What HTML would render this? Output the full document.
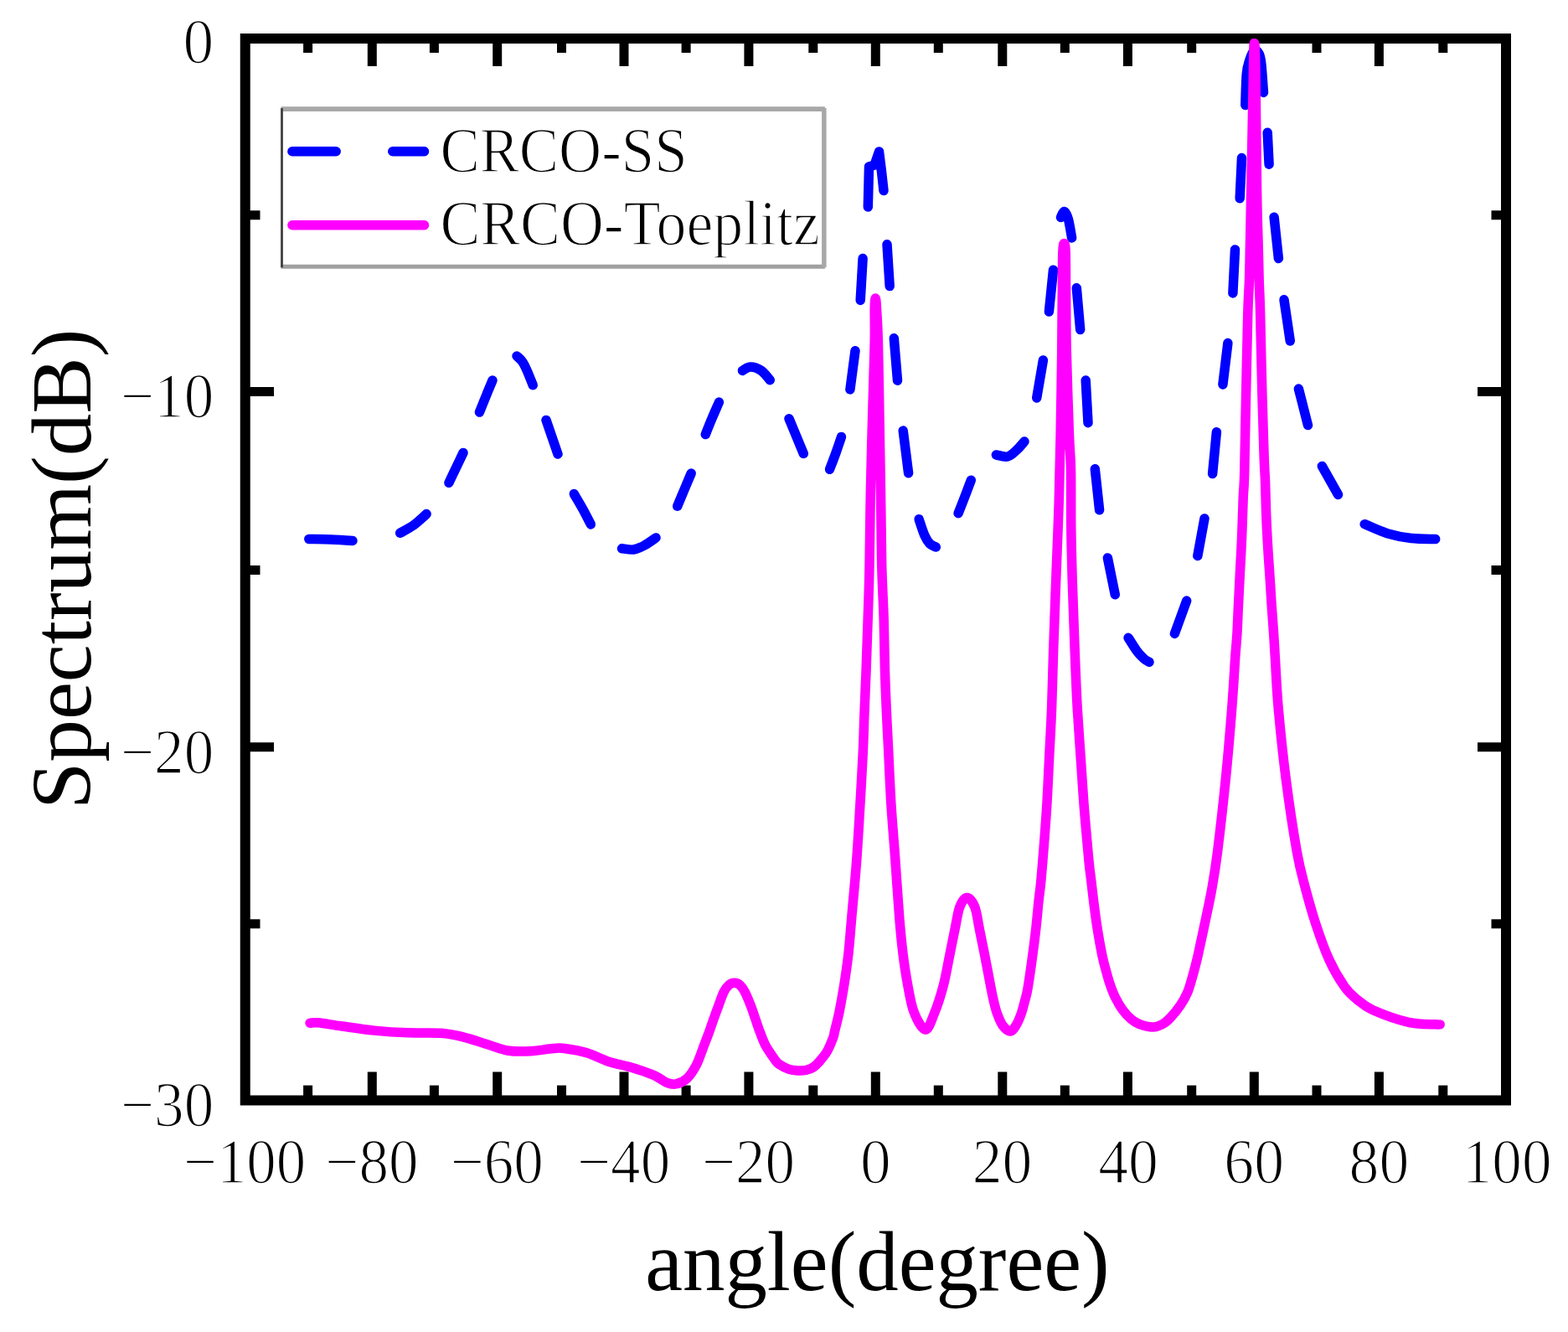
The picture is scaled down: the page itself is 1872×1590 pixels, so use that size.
<!DOCTYPE html><html><head><meta charset="utf-8"><title>Spectrum</title><style>html,body{margin:0;padding:0;background:#fff;}svg{display:block;}text{font-family:"Liberation Serif","Times New Roman",serif;fill:#000;}.t{stroke:#fff;stroke-width:1.6px;stroke-linejoin:round;}</style></head><body>
<svg width="1872" height="1590" viewBox="0 0 1872 1590">
<rect width="1872" height="1590" fill="#fff"/>
<rect x="292.75" y="46" width="1505.25" height="1267.5" fill="none" stroke="#000" stroke-width="12"/>
<g stroke="#000" stroke-width="11" fill="none">
<line x1="367.6" y1="46" x2="367.6" y2="63"/>
<line x1="367.6" y1="1313.5" x2="367.6" y2="1295.6"/>
<line x1="444.3" y1="46" x2="444.3" y2="79"/>
<line x1="444.3" y1="1313.5" x2="444.3" y2="1279.5"/>
<line x1="518.4" y1="46" x2="518.4" y2="63"/>
<line x1="518.4" y1="1313.5" x2="518.4" y2="1295.6"/>
<line x1="593.7" y1="46" x2="593.7" y2="79"/>
<line x1="593.7" y1="1313.5" x2="593.7" y2="1279.5"/>
<line x1="670.5" y1="46" x2="670.5" y2="63"/>
<line x1="670.5" y1="1313.5" x2="670.5" y2="1295.6"/>
<line x1="745" y1="46" x2="745" y2="79"/>
<line x1="745" y1="1313.5" x2="745" y2="1279.5"/>
<line x1="819.1" y1="46" x2="819.1" y2="63"/>
<line x1="819.1" y1="1313.5" x2="819.1" y2="1295.6"/>
<line x1="893.9" y1="46" x2="893.9" y2="79"/>
<line x1="893.9" y1="1313.5" x2="893.9" y2="1279.5"/>
<line x1="970.8" y1="46" x2="970.8" y2="63"/>
<line x1="970.8" y1="1313.5" x2="970.8" y2="1295.6"/>
<line x1="1045.3" y1="46" x2="1045.3" y2="79"/>
<line x1="1045.3" y1="1313.5" x2="1045.3" y2="1279.5"/>
<line x1="1120.3" y1="46" x2="1120.3" y2="63"/>
<line x1="1120.3" y1="1313.5" x2="1120.3" y2="1295.6"/>
<line x1="1196.8" y1="46" x2="1196.8" y2="79"/>
<line x1="1196.8" y1="1313.5" x2="1196.8" y2="1279.5"/>
<line x1="1271.3" y1="46" x2="1271.3" y2="63"/>
<line x1="1271.3" y1="1313.5" x2="1271.3" y2="1295.6"/>
<line x1="1346.4" y1="46" x2="1346.4" y2="79"/>
<line x1="1346.4" y1="1313.5" x2="1346.4" y2="1279.5"/>
<line x1="1422.7" y1="46" x2="1422.7" y2="63"/>
<line x1="1422.7" y1="1313.5" x2="1422.7" y2="1295.6"/>
<line x1="1497.3" y1="46" x2="1497.3" y2="79"/>
<line x1="1497.3" y1="1313.5" x2="1497.3" y2="1279.5"/>
<line x1="1572" y1="46" x2="1572" y2="63"/>
<line x1="1572" y1="1313.5" x2="1572" y2="1295.6"/>
<line x1="1646.4" y1="46" x2="1646.4" y2="79"/>
<line x1="1646.4" y1="1313.5" x2="1646.4" y2="1279.5"/>
<line x1="1722.8" y1="46" x2="1722.8" y2="63"/>
<line x1="1722.8" y1="1313.5" x2="1722.8" y2="1295.6"/>
<line x1="292.75" y1="256.8" x2="310.5" y2="256.8"/>
<line x1="1798" y1="256.8" x2="1780.5" y2="256.8"/>
<line x1="292.75" y1="467.5" x2="327" y2="467.5"/>
<line x1="1798" y1="467.5" x2="1764" y2="467.5"/>
<line x1="292.75" y1="680.5" x2="310.5" y2="680.5"/>
<line x1="1798" y1="680.5" x2="1780.5" y2="680.5"/>
<line x1="292.75" y1="891.8" x2="327" y2="891.8"/>
<line x1="1798" y1="891.8" x2="1764" y2="891.8"/>
<line x1="292.75" y1="1102.8" x2="310.5" y2="1102.8"/>
<line x1="1798" y1="1102.8" x2="1780.5" y2="1102.8"/>
</g>
<text class="t" x="292.1" y="1412.1" font-size="75.5" text-anchor="middle" textLength="146.2" lengthAdjust="spacingAndGlyphs">−100</text>
<text class="t" x="443.9" y="1412.1" font-size="75.5" text-anchor="middle" textLength="111.2" lengthAdjust="spacingAndGlyphs">−80</text>
<text class="t" x="593.3" y="1412.1" font-size="75.5" text-anchor="middle" textLength="111.2" lengthAdjust="spacingAndGlyphs">−60</text>
<text class="t" x="744.6" y="1412.1" font-size="75.5" text-anchor="middle" textLength="111.2" lengthAdjust="spacingAndGlyphs">−40</text>
<text class="t" x="893.5" y="1412.1" font-size="75.5" text-anchor="middle" textLength="111.2" lengthAdjust="spacingAndGlyphs">−20</text>
<text class="t" x="1045.3" y="1412.1" font-size="75.5" text-anchor="middle" textLength="36.7" lengthAdjust="spacingAndGlyphs">0</text>
<text class="t" x="1196.6" y="1412.1" font-size="75.5" text-anchor="middle" textLength="71.7" lengthAdjust="spacingAndGlyphs">20</text>
<text class="t" x="1347.1" y="1412.1" font-size="75.5" text-anchor="middle" textLength="71.7" lengthAdjust="spacingAndGlyphs">40</text>
<text class="t" x="1497.2" y="1412.1" font-size="75.5" text-anchor="middle" textLength="71.7" lengthAdjust="spacingAndGlyphs">60</text>
<text class="t" x="1646.4" y="1412.1" font-size="75.5" text-anchor="middle" textLength="71.7" lengthAdjust="spacingAndGlyphs">80</text>
<text class="t" x="1799.1" y="1412.1" font-size="75.5" text-anchor="middle" textLength="106.7" lengthAdjust="spacingAndGlyphs">100</text>
<text class="t" x="255.2" y="74.9" font-size="75.5" text-anchor="end" textLength="36.7" lengthAdjust="spacingAndGlyphs">0</text>
<text class="t" x="255.2" y="498.1" font-size="75.5" text-anchor="end" textLength="111.2" lengthAdjust="spacingAndGlyphs">−10</text>
<text class="t" x="255.2" y="922.5" font-size="75.5" text-anchor="end" textLength="111.2" lengthAdjust="spacingAndGlyphs">−20</text>
<text class="t" x="255.2" y="1343.7" font-size="75.5" text-anchor="end" textLength="111.2" lengthAdjust="spacingAndGlyphs">−30</text>
<text class="t" x="525.4" y="205" font-size="76.5" textLength="295.2" lengthAdjust="spacingAndGlyphs">CRCO-SS</text>
<text class="t" x="525.4" y="292.3" font-size="76.5" textLength="453.4" lengthAdjust="spacingAndGlyphs">CRCO-Toeplitz</text>
<text x="770.2" y="1540" font-size="101" textLength="554.4" lengthAdjust="spacingAndGlyphs">angle(degree)</text>
<text transform="translate(107.5 966) rotate(-90)" x="0" y="0" font-size="101" textLength="573.5" lengthAdjust="spacingAndGlyphs">Spectrum(dB)</text>
<g fill="none">
<line x1="335.5" y1="130.1" x2="984.85" y2="130.1" stroke="#a8a8a8" stroke-width="5.6"/>
<line x1="335.5" y1="318.3" x2="984.85" y2="318.3" stroke="#a0a0a0" stroke-width="5"/>
<line x1="336.5" y1="129.1" x2="336.5" y2="319.3" stroke="#404040" stroke-width="2.8"/>
<line x1="983.85" y1="129.1" x2="983.85" y2="319.3" stroke="#a8a8a8" stroke-width="5.5"/>
</g>
<g stroke-linecap="round" fill="none" stroke-width="11.5">
<path d="M348.9 180.7L401.2 180.7" stroke="#0000ff"/>
<path d="M468.8 180.7L506.5 180.7" stroke="#0000ff"/>
<path d="M348.9 268.7L506.5 268.7" stroke="#ff00ff"/>
</g>
<g fill="none" stroke-linecap="round" stroke-linejoin="round">
<path d="M368.8 643.5C373.2 643.6 386.3 643.7 395 644C403.7 644.3 416.7 645.2 421 645.5" stroke="#0000ff" stroke-width="11.5"/>
<path d="M477.7 636.3C480.4 634.7 489 630.5 494.2 626.7C499.4 622.9 506.6 615.8 509.1 613.6" stroke="#0000ff" stroke-width="11.5"/>
<path d="M535.9 576.3C537.2 573.5 541 565.4 543.9 559.4C546.8 553.4 551.5 543.6 553 540.5" stroke="#0000ff" stroke-width="11.5"/>
<path d="M572.4 492.1C573.8 488.6 578.2 477.7 580.8 471.3C583.4 464.9 586.8 456.9 588 454" stroke="#0000ff" stroke-width="11.5"/>
<path d="M617 425C618.1 426.1 621.5 428.7 623.5 431.5C625.5 434.3 626.9 437.3 629 442C631.1 446.7 635 456.8 636.2 459.7" stroke="#0000ff" stroke-width="11.5"/>
<path d="M652 501.4L666 542.1" stroke="#0000ff" stroke-width="11.5"/>
<path d="M685.3 589.6C687 592.6 692.4 601.5 695.7 607.5C699 613.5 703.7 622.8 705.3 625.9" stroke="#0000ff" stroke-width="11.5"/>
<path d="M742.5 654.8C744.9 655 752.1 656.6 756.6 656C761.1 655.4 765 653.3 769.4 651C773.8 648.7 780.7 643.5 783 642" stroke="#0000ff" stroke-width="11.5"/>
<path d="M808.7 604.3C810 601.1 814 591.6 816.7 585.1C819.5 578.6 823.8 568.4 825.2 565" stroke="#0000ff" stroke-width="11.5"/>
<path d="M842.3 518.6C843.6 515.2 847.7 504.9 850.4 498.5C853.1 492.1 857.1 483.2 858.4 480.1" stroke="#0000ff" stroke-width="11.5"/>
<path d="M886.4 442.4C888 441.7 892.3 438 896 438C899.7 438 904.9 439.8 908.8 442.4C912.7 445 917.5 451.8 919.3 453.7" stroke="#0000ff" stroke-width="11.5"/>
<path d="M942 499.7L959.3 541.5" stroke="#0000ff" stroke-width="11.5"/>
<path d="M990.5 560.3C991.7 557.1 995.5 547.5 997.8 541C1000.1 534.5 1003.4 524.8 1004.5 521.5" stroke="#0000ff" stroke-width="11.5"/>
<path d="M1014.9 464.9L1021 418.8" stroke="#0000ff" stroke-width="11.5"/>
<path d="M1027.2 358.4L1030.1 308.6" stroke="#0000ff" stroke-width="11.5"/>
<path d="M1036.3 247L1037.5 199L1044 197L1049.5 181L1052.4 204L1055 227.6" stroke="#0000ff" stroke-width="11.5"/>
<path d="M1059 291.7L1062.2 341.6" stroke="#0000ff" stroke-width="11.5"/>
<path d="M1067.3 403.8L1071.5 454.2" stroke="#0000ff" stroke-width="11.5"/>
<path d="M1078.2 514.1L1084.6 564.7" stroke="#0000ff" stroke-width="11.5"/>
<path d="M1097.1 619.7C1098.2 623 1101.8 634.5 1104 639.4C1106.2 644.3 1107.8 646.7 1110 649C1112.2 651.3 1116.1 652.3 1117.3 653" stroke="#0000ff" stroke-width="11.5"/>
<path d="M1144.1 612.7C1145.4 609.4 1149.3 599.6 1151.8 593C1154.3 586.4 1158 576.5 1159.3 573.2" stroke="#0000ff" stroke-width="11.5"/>
<path d="M1189.3 543C1191.6 543.3 1198.9 546 1203 545C1207.1 544 1210.7 540 1214 537C1217.3 534 1221.5 528.7 1223 527" stroke="#0000ff" stroke-width="11.5"/>
<path d="M1237.7 475L1245.4 430" stroke="#0000ff" stroke-width="11.5"/>
<path d="M1252.4 372L1257.5 322.2" stroke="#0000ff" stroke-width="11.5"/>
<path d="M1266.5 259.5C1267.2 258.3 1269.3 252.1 1270.8 252.5C1272.3 252.9 1274 256.8 1275.5 262C1277 267.2 1278.9 280.2 1279.6 283.9" stroke="#0000ff" stroke-width="11.5"/>
<path d="M1285.3 343.8L1289.7 393.5" stroke="#0000ff" stroke-width="11.5"/>
<path d="M1296.2 454L1299 504.7" stroke="#0000ff" stroke-width="11.5"/>
<path d="M1307.3 559.8L1312.6 608.8" stroke="#0000ff" stroke-width="11.5"/>
<path d="M1322.4 666L1331.3 709.8" stroke="#0000ff" stroke-width="11.5"/>
<path d="M1347.1 761.3C1348.9 764.1 1354.8 773.8 1358 778C1361.2 782.2 1363.7 784.5 1366 786.5C1368.3 788.5 1371 789.7 1372 790.3" stroke="#0000ff" stroke-width="11.5"/>
<path d="M1402.4 756.4L1416.7 717.1" stroke="#0000ff" stroke-width="11.5"/>
<path d="M1429.8 663.6L1438 618.9" stroke="#0000ff" stroke-width="11.5"/>
<path d="M1447.6 565.6L1452.4 515.7" stroke="#0000ff" stroke-width="11.5"/>
<path d="M1459.9 459L1465.9 409.5" stroke="#0000ff" stroke-width="11.5"/>
<path d="M1471.9 350L1474.5 297.9" stroke="#0000ff" stroke-width="11.5"/>
<path d="M1480.2 236.8L1482.5 188.5" stroke="#0000ff" stroke-width="11.5"/>
<path d="M1486.8 125.5C1487 119.2 1487.5 96.9 1488.3 88C1489.1 79.1 1490.3 76.7 1491.8 72C1493.3 67.3 1495.6 61.3 1497.5 60C1499.4 58.7 1501.6 61.3 1503 64C1504.4 66.7 1504.9 68.3 1505.8 76C1506.7 83.7 1508 104.7 1508.5 110.4" stroke="#0000ff" stroke-width="11.5"/>
<path d="M1513.2 158.3L1515.1 196.2" stroke="#0000ff" stroke-width="11.5"/>
<path d="M1521.1 259.2L1526.4 308.5" stroke="#0000ff" stroke-width="11.5"/>
<path d="M1533 357.8L1540.3 407.1" stroke="#0000ff" stroke-width="11.5"/>
<path d="M1550.4 464.1L1561.5 507.6" stroke="#0000ff" stroke-width="11.5"/>
<path d="M1578.3 556.4L1597.5 590.4" stroke="#0000ff" stroke-width="11.5"/>
<path d="M1629.2 625.7C1633.7 627.5 1646.9 633.9 1656.2 636.7C1665.5 639.5 1675.4 641.4 1685 642.5C1694.6 643.6 1708.9 643.3 1713.7 643.5" stroke="#0000ff" stroke-width="11.5"/>
<path d="M370 1221.2C371.7 1221.2 373.9 1220.2 380 1220.8C386.1 1221.4 395.7 1223.2 406.8 1224.8C417.9 1226.3 433.5 1228.8 446.8 1230.1C460.1 1231.4 473.5 1232.3 486.9 1232.8C500.3 1233.3 515.9 1232.4 527 1233.3C538.1 1234.2 544.8 1235.9 553.7 1238.1C562.6 1240.2 571.5 1243.5 580.4 1246.2C589.3 1248.9 598.2 1252.8 607.1 1254.2C616 1255.6 624.9 1255.2 633.8 1254.7C642.7 1254.2 653.8 1252 660.5 1251.5C667.2 1251 667.2 1250.6 673.9 1251.5C680.6 1252.4 691.7 1254.1 700.6 1256.8C709.5 1259.5 718.4 1264.6 727.3 1267.5C736.2 1270.4 745.1 1271.5 754 1274.2C762.9 1276.9 773.7 1280.5 780.7 1283.5C787.7 1286.5 791.6 1290.6 796 1292.3C800.4 1294 803.2 1294.7 807.2 1293.9C811.2 1293.1 816 1291.2 820 1287.5C824 1283.8 827.9 1278 831.3 1271.4C834.7 1264.9 837.9 1254.7 840.4 1248.2C842.9 1241.7 844.5 1237.5 846.5 1232.2C848.5 1226.9 850.2 1221.6 852.1 1216.2C854 1210.8 856 1205.4 858 1200.1C860 1194.8 862.1 1188.1 864.1 1184.1C866.1 1180.1 867.9 1177.8 870 1176C872.1 1174.2 874.8 1173.3 877 1173.3C879.2 1173.3 881.5 1174.2 883.5 1176C885.5 1177.8 887.2 1180.1 889.3 1184.1C891.4 1188.1 894.1 1194.8 896.2 1200.1C898.3 1205.4 899.9 1210.8 901.8 1216.2C903.7 1221.6 905.3 1226.9 907.4 1232.2C909.5 1237.5 911.2 1242.9 914.1 1248.2C917 1253.5 922 1260.5 924.6 1264.2C927.2 1267.9 927.1 1268.2 930 1270.2C932.9 1272.2 938.3 1275 942 1276.3C945.7 1277.6 948.7 1277.8 952 1278C955.3 1278.2 958.8 1278.2 962 1277.5C965.2 1276.8 968.5 1275.5 971 1274C973.5 1272.5 974.3 1271.6 977 1268.5C979.7 1265.4 984.1 1260.6 987.1 1255.6C990.1 1250.6 993.2 1242.5 994.7 1238.5C996.2 1234.5 995.2 1236.6 996.4 1231.4C997.6 1226.2 1000.1 1217.5 1002.1 1207.5C1004.1 1197.5 1006.5 1183.7 1008.4 1171.7C1010.2 1159.8 1011.8 1149 1013.2 1135.8C1014.6 1122.6 1015.4 1110.6 1017 1092.5C1018.6 1074.4 1021.1 1048.8 1022.7 1027C1024.3 1005.2 1025.5 983.5 1026.8 961.7C1028.1 939.9 1029.6 914.4 1030.4 896.3C1031.2 878.2 1031.3 868.7 1031.9 853C1032.5 837.3 1033.3 820.2 1034 802C1034.7 783.8 1035.3 764.8 1036 744C1036.7 723.2 1037.5 702.8 1038 677C1038.5 651.2 1038.7 618.8 1039.3 589C1039.9 559.2 1040.8 528.2 1041.6 498C1042.4 467.8 1043.8 429.7 1044.2 408C1044.6 386.3 1044 376.7 1044.2 368C1044.4 359.3 1044.8 356 1045.2 356C1045.6 356 1046 359.3 1046.5 368C1047 376.7 1047.8 386.3 1048.4 408C1049 429.7 1049.5 467.8 1050 498C1050.5 528.2 1051 559.7 1051.5 589C1052 618.3 1052.1 648.8 1052.7 674C1053.3 699.2 1054.6 719.3 1055.2 740C1055.8 760.7 1055.9 779.7 1056.4 798C1056.9 816.3 1057.7 833.7 1058.4 850C1059.1 866.3 1059.8 877.4 1060.7 896C1061.6 914.6 1062.6 939.9 1064 961.7C1065.4 983.5 1067.3 1004.6 1068.9 1027C1070.5 1049.4 1072.3 1077.9 1073.8 1096C1075.3 1114.1 1076.2 1123.2 1077.7 1135.8C1079.2 1148.4 1080.8 1159.8 1083 1171.7C1085.2 1183.7 1087.3 1198 1090.9 1207.5C1094.5 1217 1100.6 1228.4 1104.6 1229C1108.6 1229.6 1111.4 1219.6 1115 1210.9C1118.6 1202.2 1123.2 1188.2 1126.2 1176.8C1129.2 1165.4 1131 1154 1133.3 1142.6C1135.6 1131.2 1138.1 1118.4 1140.2 1108.4C1142.3 1098.4 1143.4 1088.8 1145.8 1082.7C1148.2 1076.6 1151.4 1071.6 1154.4 1071.6C1157.4 1071.6 1161.3 1076.6 1163.8 1082.7C1166.3 1088.8 1167.2 1098.4 1169.2 1108.4C1171.2 1118.4 1173.8 1130.7 1176.1 1142.6C1178.4 1154.5 1181.5 1171.2 1183.2 1180C1184.9 1188.8 1185.2 1190.1 1186.4 1195.1C1187.6 1200.1 1188.8 1205.4 1190.6 1210.2C1192.4 1215 1194.4 1220.5 1197 1224C1199.6 1227.5 1203.3 1231 1206 1231C1208.7 1231 1210.8 1227.5 1213 1224C1215.2 1220.5 1217.5 1215 1219.2 1210.2C1220.9 1205.4 1222.1 1200.1 1223.4 1195.1C1224.7 1190.1 1225.5 1188.8 1227 1180C1228.5 1171.2 1230.9 1154.5 1232.5 1142.6C1234.1 1130.7 1235.5 1119.8 1236.8 1108.4C1238.1 1097 1239.2 1083.1 1240.2 1074.2C1241.2 1065.3 1241.7 1063 1242.5 1055C1243.3 1047 1243.8 1040.8 1245 1026C1246.2 1011.2 1248.2 986.1 1249.5 966C1250.8 945.9 1251.6 925.7 1252.6 905.5C1253.6 885.3 1254.8 866.2 1255.6 845C1256.4 823.8 1256.9 798.5 1257.6 778C1258.3 757.5 1258.9 741.8 1259.6 722C1260.3 702.2 1261.2 679.3 1262 659C1262.8 638.7 1263.5 623.2 1264.2 600C1264.9 576.8 1265.5 550 1266.1 520C1266.7 490 1267.3 448.3 1267.7 420C1268.1 391.7 1268.1 369.7 1268.3 350C1268.5 330.3 1268.4 311.9 1268.8 302C1269.2 292.1 1269.9 290.5 1270.5 290.5C1271.1 290.5 1271.9 292.1 1272.2 302C1272.5 311.9 1272.4 330.3 1272.6 350C1272.8 369.7 1272.6 391.7 1273.3 420C1274 448.3 1275.6 496.7 1276.5 520C1277.4 543.3 1278.1 541.5 1278.5 560C1278.9 578.5 1278.5 609 1278.8 631C1279.1 653 1279.7 672.8 1280.2 692C1280.8 711.2 1281.5 729.3 1282.1 746C1282.7 762.7 1283.1 775.5 1283.8 792C1284.5 808.5 1285.1 826.1 1286.2 845C1287.3 863.9 1288.9 885.3 1290.3 905.5C1291.7 925.7 1292.9 945.9 1294.5 966C1296.1 986.1 1298.5 1012 1299.8 1026C1301.1 1040 1301.5 1041 1302.6 1050C1303.7 1059 1304.9 1070.1 1306.2 1080.2C1307.5 1090.3 1308.8 1100.3 1310.4 1110.4C1312 1120.5 1314.2 1132.3 1315.9 1140.6C1317.6 1148.9 1319.2 1154.2 1320.8 1160C1322.4 1165.8 1323.5 1170.1 1325.3 1175.1C1327 1180.1 1328.8 1185.2 1331.3 1190.2C1333.8 1195.2 1337 1200.9 1340.2 1205.3C1343.4 1209.7 1347.3 1213.8 1350.6 1216.6C1353.9 1219.4 1355.8 1220.7 1360 1222.3C1364.2 1223.9 1371.3 1226 1376 1226C1380.7 1226 1384.4 1224.4 1388 1222.5C1391.6 1220.6 1393.8 1218.6 1397.4 1214.8C1401 1211 1406 1204.8 1409.4 1199.8C1412.8 1194.8 1415.4 1189.9 1417.6 1184.9C1419.8 1179.9 1421 1174.9 1422.5 1169.9C1424 1164.9 1425.3 1160 1426.6 1155C1427.9 1150 1428.3 1148.7 1430.3 1140C1432.2 1131.3 1435.5 1116 1438.3 1102.7C1441.1 1089.4 1444.5 1074.4 1447 1060C1449.5 1045.6 1450.9 1038 1453.6 1016.5C1456.3 995 1460.3 959.5 1463.2 931C1466.1 902.5 1468.8 869.8 1470.7 845.5C1472.6 821.2 1473.7 800.1 1474.7 785C1475.8 769.9 1476.4 765.5 1477 755C1477.6 744.5 1477.9 733.8 1478.5 722C1479.1 710.2 1479.7 697.5 1480.4 684C1481.1 670.5 1482 655.8 1482.6 641C1483.2 626.2 1483.7 607.7 1484.2 595C1484.7 582.3 1485.2 585 1485.7 565C1486.2 545 1486.8 507 1487.5 475C1488.2 443 1489.1 396.3 1489.8 373C1490.5 349.7 1491 348.8 1491.5 335C1492 321.2 1492.1 307.7 1492.5 290C1492.9 272.3 1493 263.8 1493.7 229C1494.4 194.2 1495.9 110.5 1496.5 81C1497.1 51.5 1497.1 51.7 1497.5 51.7C1497.9 51.7 1498.4 51.5 1498.9 81C1499.4 110.5 1500.1 194.2 1500.6 229C1501.1 263.8 1501.7 272.3 1502.1 290C1502.5 307.7 1502.8 321.2 1503.2 335C1503.6 348.8 1504 349.7 1504.6 373C1505.2 396.3 1506.2 446 1507 475C1507.8 504 1508.6 530.2 1509.2 547C1509.8 563.8 1510.2 564.8 1510.6 576C1511 587.2 1511.2 600.8 1511.7 614C1512.2 627.2 1513 642.2 1513.8 655C1514.5 667.8 1515.5 679.7 1516.2 691C1516.9 702.3 1517.5 712.7 1518.2 723C1518.9 733.3 1519.7 742.8 1520.4 753C1521.1 763.2 1521.3 768.6 1522.3 784C1523.3 799.4 1524 821 1526.2 845.5C1528.4 870 1531.7 902.5 1535.4 931C1539.1 959.5 1544.5 995 1548.3 1016.5C1552.1 1038 1554.7 1045.6 1558.4 1060C1562.2 1074.4 1566.1 1088.5 1570.8 1102.7C1575.5 1117 1581.1 1133 1586.8 1145.5C1592.5 1158 1599.5 1169.6 1605 1177.5C1610.5 1185.4 1614.3 1188.3 1620 1193C1625.7 1197.7 1628.8 1201.2 1639.1 1205.7C1649.4 1210.2 1669.4 1217.5 1681.9 1220.3C1694.4 1223.1 1707.7 1222.4 1713.9 1222.8C1720.1 1223.2 1718.4 1222.9 1719.2 1222.9" stroke="#ff00ff" stroke-width="11.5"/>
</g>
</svg></body></html>
